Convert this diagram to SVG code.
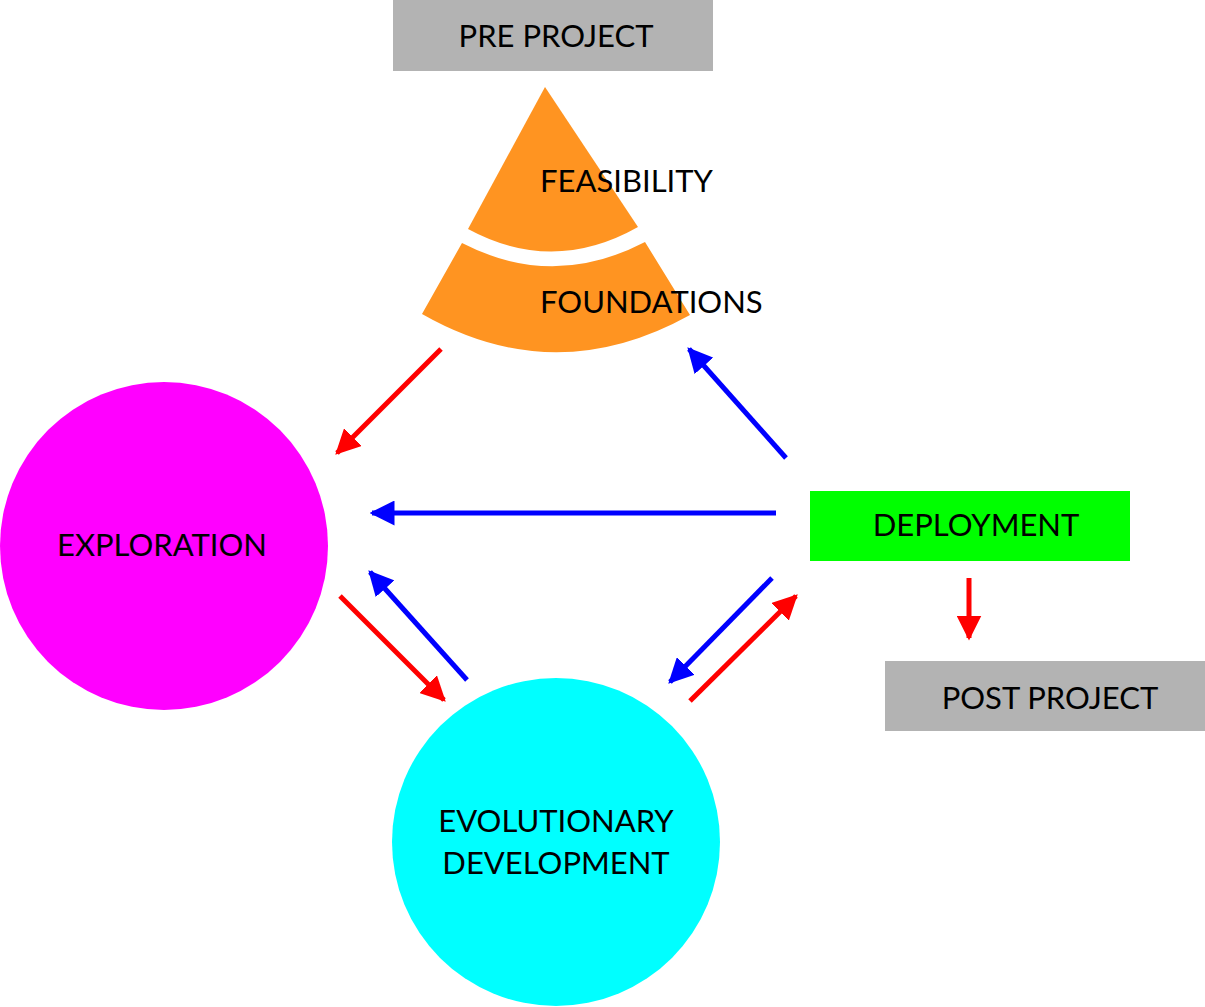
<svg xmlns="http://www.w3.org/2000/svg" width="1205" height="1007" viewBox="0 0 1205 1007">
<defs>
<style>
text{font-family:Lato,"Liberation Sans",sans-serif;font-size:31px;fill:#000;}
.r{stroke:#ff0000;stroke-width:5;fill:none}
.b{stroke:#0000ff;stroke-width:5;fill:none}
</style>
<marker id="mr" viewBox="0 0 10 10" refX="9" refY="5" markerWidth="5" markerHeight="5" orient="auto" markerUnits="strokeWidth"><path d="M0,0L10,5L0,10z" fill="#ff0000"/></marker>
<marker id="mb" viewBox="0 0 10 10" refX="9" refY="5" markerWidth="5" markerHeight="5" orient="auto" markerUnits="strokeWidth"><path d="M0,0L10,5L0,10z" fill="#0000ff"/></marker>
</defs>
<rect width="1205" height="1007" fill="#fff"/>
<g id="pre"><rect x="393" y="0" width="320" height="71" fill="#b3b3b3"/><text x="556" y="47" text-anchor="middle">PRE PROJECT</text></g>
<g id="feasibility"><path d="M545,87 L638,227 Q553,275 468,229 Z" fill="#ff9421"/><text x="540" y="192">FEASIBILITY</text></g>
<g id="foundations"><path d="M462,243 Q553,290 645,242 L690,315 Q555,390 422,314 Z" fill="#ff9421"/><text x="540" y="313">FOUNDATIONS</text></g>
<g id="exploration"><circle cx="164" cy="546" r="164" fill="#ff00ff"/><text x="162" y="556" text-anchor="middle">EXPLORATION</text></g>
<g id="evo"><circle cx="556" cy="842" r="164" fill="#00ffff"/><text x="556" y="832" text-anchor="middle">EVOLUTIONARY</text><text x="556" y="874" text-anchor="middle">DEVELOPMENT</text></g>
<g id="deployment"><rect x="810" y="491" width="320" height="70" fill="#00ff00"/><text x="976" y="536" text-anchor="middle">DEPLOYMENT</text></g>
<g id="post"><rect x="885" y="661" width="320" height="70" fill="#b3b3b3"/><text x="1050" y="709" text-anchor="middle">POST PROJECT</text></g>
<g id="connectors">
<line class="r" x1="441" y1="349" x2="337" y2="453" marker-end="url(#mr)"/>
<line class="b" x1="786" y1="458" x2="689" y2="349" marker-end="url(#mb)"/>
<line class="b" x1="776" y1="513" x2="372" y2="513" marker-end="url(#mb)"/>
<line class="r" x1="340" y1="596" x2="444" y2="700" marker-end="url(#mr)"/>
<line class="b" x1="467" y1="680" x2="370" y2="572" marker-end="url(#mb)"/>
<line class="b" x1="772" y1="578" x2="670" y2="682" marker-end="url(#mb)"/>
<line class="r" x1="690" y1="701" x2="796" y2="596" marker-end="url(#mr)"/>
<line class="r" x1="969" y1="578" x2="969" y2="638" marker-end="url(#mr)"/>
</g>
</svg>
